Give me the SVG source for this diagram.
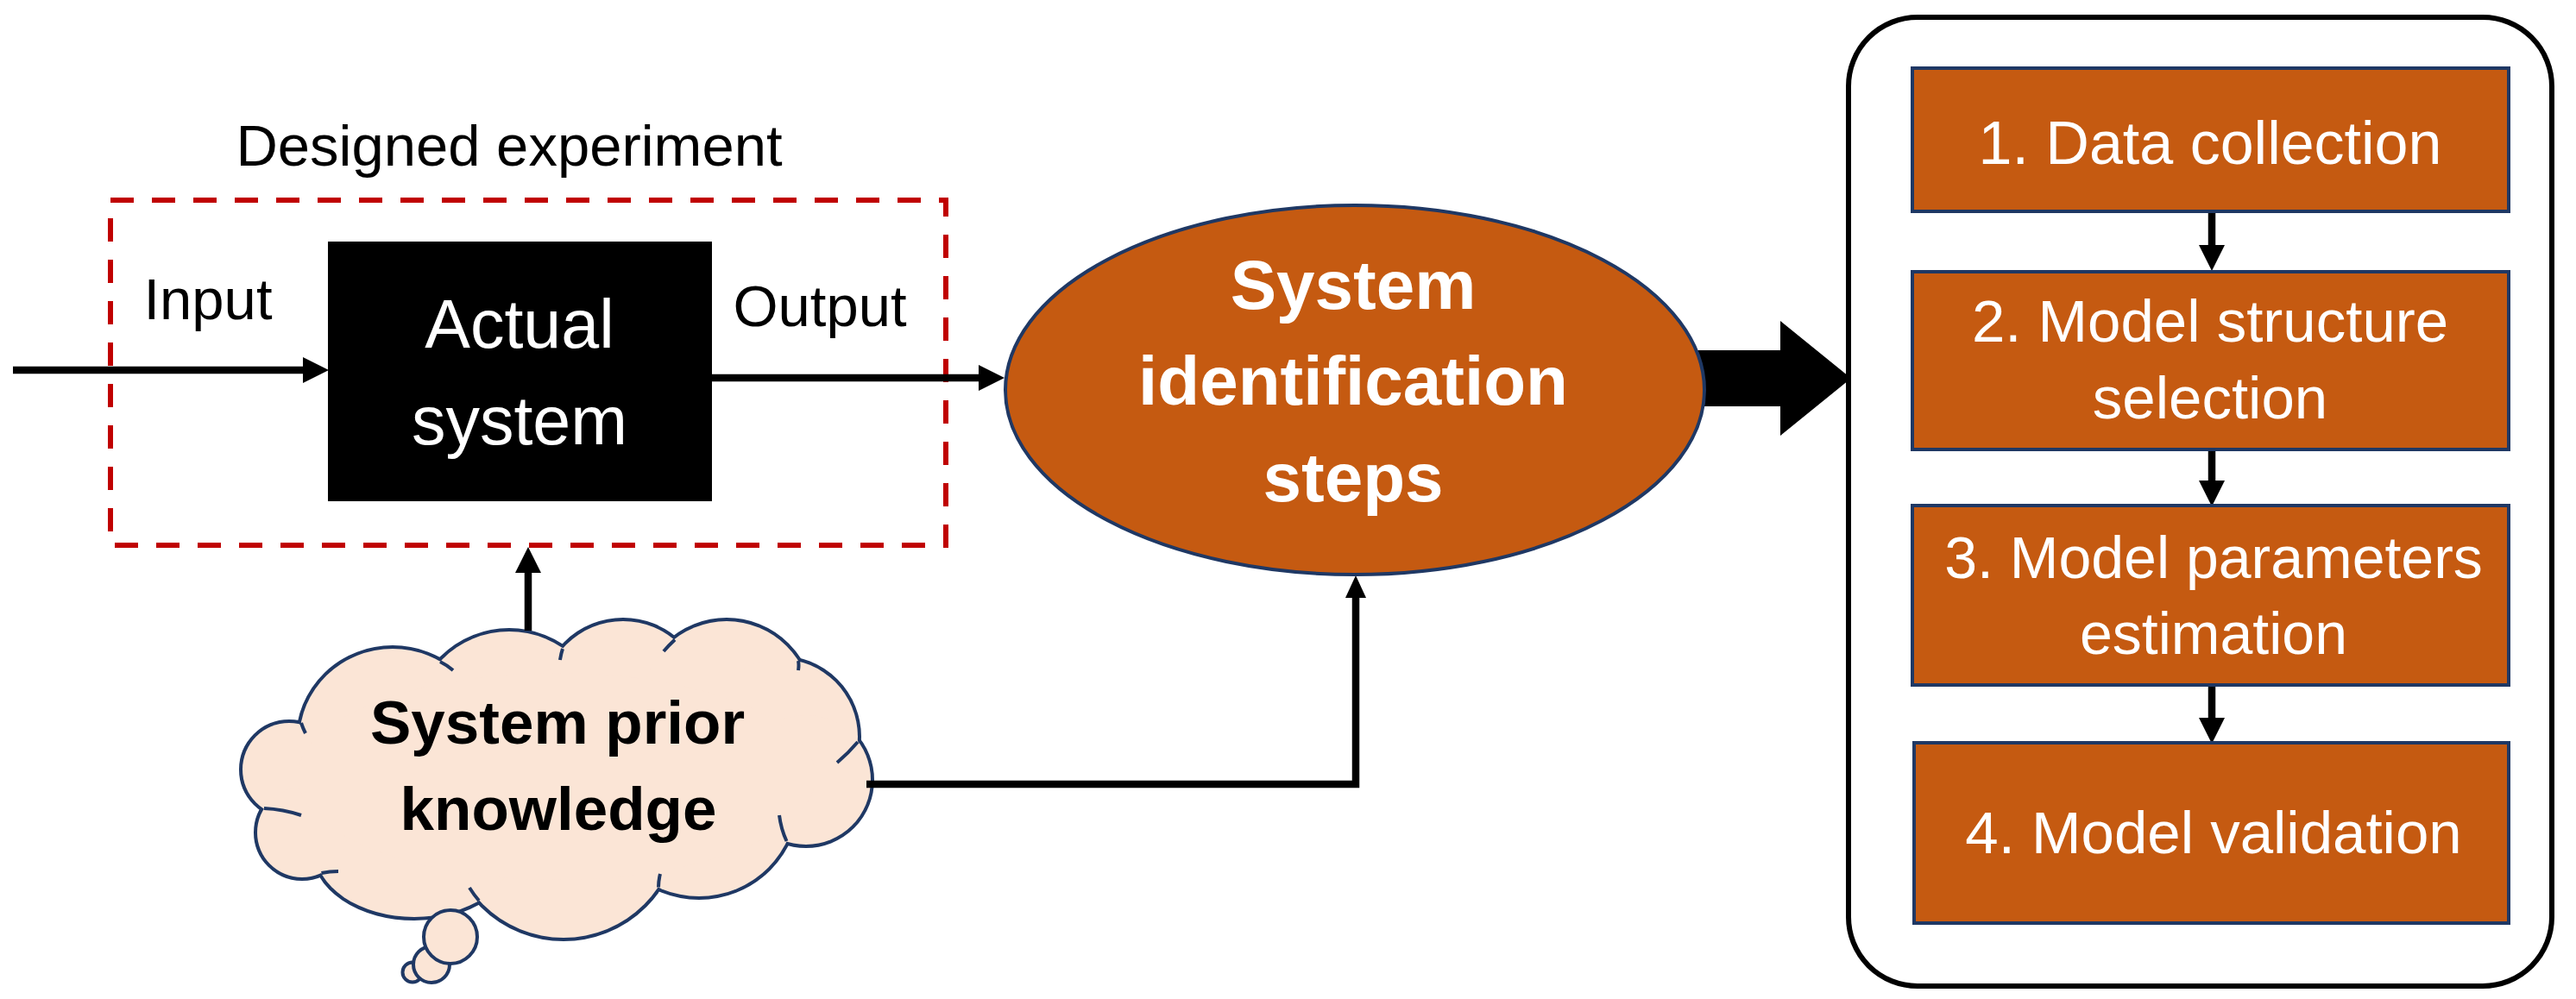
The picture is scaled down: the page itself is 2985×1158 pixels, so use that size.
<svg xmlns="http://www.w3.org/2000/svg" width="2985" height="1158" viewBox="0 0 2985 1158">
<style>
  .t{font-family:"Liberation Sans",Arial,sans-serif;text-anchor:middle}
  .blk{fill:#000}
  .wht{fill:#fff}
  .b{font-weight:bold}
  .conn{fill:none;stroke:#000;stroke-width:8.5}
  .step{fill:#C55A11;stroke:#1F3864;stroke-width:4}
  .cloudS{fill:#FBE5D6;stroke:#1F3864;stroke-width:8}
  .cloudF{fill:#FBE5D6;stroke:none}
  .notch{fill:none;stroke:#1F3864;stroke-width:4}
  .bub{fill:#FBE5D6;stroke:#1F3864;stroke-width:4}
</style>
<defs>
  <marker id="ah" markerUnits="userSpaceOnUse" viewBox="0 0 30 30" refX="0" refY="15" markerWidth="30" markerHeight="30" orient="auto">
    <path d="M0,0 L30,15 L0,30 Z" fill="#000"/>
  </marker>
  <marker id="ahs" markerUnits="userSpaceOnUse" viewBox="0 0 26 24" refX="0" refY="12" markerWidth="26" markerHeight="24" orient="auto">
    <path d="M0,0 L26,12 L0,24 Z" fill="#000"/>
  </marker>
  <g id="cloudShapes">
    <circle cx="335" cy="892" r="54"/>
    <ellipse cx="455" cy="857" rx="108" ry="105"/>
    <circle cx="590" cy="841" r="109"/>
    <circle cx="722" cy="813" r="93"/>
    <circle cx="842" cy="818" r="98"/>
    <circle cx="904" cy="854" r="90"/>
    <circle cx="934" cy="904" r="75"/>
    <circle cx="810" cy="926" r="113"/>
    <circle cx="653" cy="955" r="132"/>
    <ellipse cx="480" cy="985" rx="115" ry="78"/>
    <circle cx="350" cy="965" r="52"/>
    <ellipse cx="645" cy="900" rx="300" ry="120"/>
  </g>
</defs>
<rect x="0" y="0" width="2985" height="1158" fill="#fff"/>

<g id="designed-experiment">
  <rect x="128" y="232" width="968" height="400" fill="none" stroke="#C00000" stroke-width="6" stroke-dasharray="27 21"/>
  <text class="t blk" x="590" y="192" font-size="67">Designed experiment</text>
</g>

<g id="actual-system">
  <rect x="380" y="280" width="445" height="301" fill="#000"/>
  <text class="t wht" x="602" y="403" font-size="79">Actual</text>
  <text class="t wht" x="602" y="515" font-size="79">system</text>
</g>

<g id="prior-knowledge">
  <use href="#cloudShapes" class="cloudS"/>
  <use href="#cloudShapes" class="cloudF"/>
  <path class="notch" d="M349,838 Q351,844 354,850 M510,767 Q518,771 525,777 M652,752 Q650,758 649,765 M782,741.5 Q775,748 769,755 M925,766 Q926,771 925,777 M994,860 Q983,873 970,884 M911.5,975 Q905,961 903,945 M763,1028.6 Q763,1021 765,1013 M555,1044 Q549,1037 544,1029 M372.5,1012 Q382,1010 392,1010 M306,937 Q328,938 349,945"/>
  <circle class="bub" cx="478" cy="1127" r="11.5"/>
  <circle class="bub" cx="500" cy="1118" r="21"/>
  <circle class="bub" cx="522" cy="1086" r="31"/>
  <text class="t blk b" x="646" y="862" font-size="71">System prior</text>
  <text class="t blk b" x="647" y="962" font-size="71">knowledge</text>
</g>

<g id="connectors">
  <line class="conn" x1="15" y1="429" x2="351" y2="429" marker-end="url(#ah)"/>
  <line class="conn" x1="825" y1="438" x2="1134" y2="438" marker-end="url(#ah)"/>
  <line class="conn" x1="612" y1="731" x2="612" y2="664" marker-end="url(#ah)"/>
  <polyline class="conn" points="1004,909 1571,909 1571,693" marker-end="url(#ahs)"/>
  <polygon points="1960,406 2063,406 2063,372 2145,438.5 2063,505 2063,471 1960,471" fill="#000"/>
  <line class="conn" x1="2563" y1="245" x2="2563" y2="284" marker-end="url(#ah)"/>
  <line class="conn" x1="2563" y1="521" x2="2563" y2="557" marker-end="url(#ah)"/>
  <line class="conn" x1="2563" y1="794" x2="2563" y2="832" marker-end="url(#ah)"/>
  <text class="t blk" x="241" y="370" font-size="67">Input</text>
  <text class="t blk" x="950" y="378" font-size="67">Output</text>
</g>

<g id="system-identification">
  <ellipse cx="1570" cy="452" rx="405" ry="214" fill="#C55A11" stroke="#1F3864" stroke-width="4"/>
  <text class="t wht b" x="1568" y="358" font-size="80">System</text>
  <text class="t wht b" x="1568" y="469" font-size="80">identification</text>
  <text class="t wht b" x="1568" y="581" font-size="80">steps</text>
</g>

<g id="steps-panel">
  <rect x="2142" y="20" width="815" height="1123" rx="80" ry="80" fill="none" stroke="#000" stroke-width="6"/>
</g>

<g id="step1">
  <rect class="step" x="2216" y="79" width="691" height="166"/>
  <text class="t wht" x="2561" y="190" font-size="70">1. Data collection</text>
</g>
<g id="step2">
  <rect class="step" x="2216" y="315" width="691" height="206"/>
  <text class="t wht" x="2561" y="396" font-size="69">2. Model structure</text>
  <text class="t wht" x="2561" y="485" font-size="69">selection</text>
</g>
<g id="step3">
  <rect class="step" x="2216" y="586" width="691" height="208"/>
  <text class="t wht" x="2565" y="670" font-size="68">3. Model parameters</text>
  <text class="t wht" x="2565" y="758" font-size="68">estimation</text>
</g>
<g id="step4">
  <rect class="step" x="2218" y="861" width="689" height="209"/>
  <text class="t wht" x="2565" y="989" font-size="69">4. Model validation</text>
</g>
</svg>
